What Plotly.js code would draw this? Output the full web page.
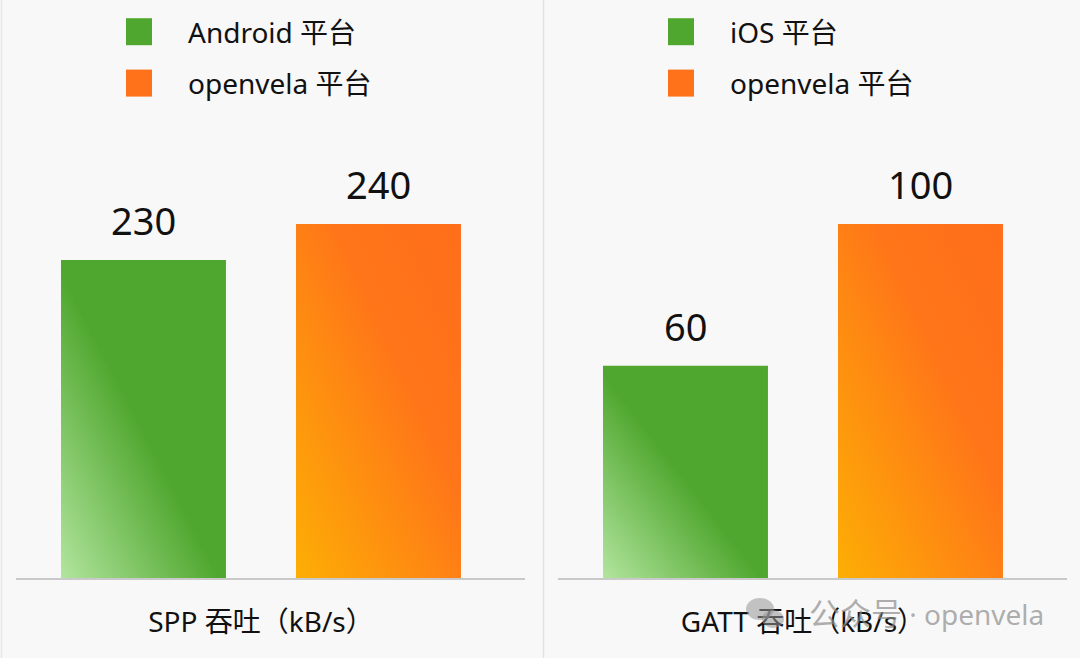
<!DOCTYPE html>
<html>
<head>
<meta charset="utf-8">
<script src="https://cdn.plot.ly/plotly-3.0.1.min.js"></script>
<style>
  html, body { margin: 0; padding: 0; background: #f8f8f8; }
  #chart { width: 1080px; height: 658px; }
</style>
</head>
<body>
<div id="chart"></div>
<script>
// ---- data ----
const sppCategory = ['SPP 吞吐（kB/s）'];
const gattCategory = ['GATT 吞吐（kB/s）'];
const androidName = 'Android 平台';
const iosName = 'iOS 平台';
const openvelaName = 'openvela 平台';
const androidSpp = [230];
const openvelaSpp = [240];
const iosGatt = [60];
const openvelaGatt = [100];
const watermarkCn = '公众号';
const watermarkEn = 'openvela';

// ---- style ----
const FONT = 'Noto Sans, "Noto Sans CJK SC", sans-serif';
const GREEN = '#50a72f';
const ORANGE = '#ff7219';
const GRAD = {
  green: [[0, '#b2e59e'], [0.48, '#50a72f'], [1, '#50a72f']],
  orange: [[0, '#fdae05'], [0.62, '#ff7519'], [1, '#ff6e1a']]
};

function barTrace(cats, vals, name, color, xa, ya, legend, kind, group) {
  return {
    type: 'bar', x: cats, y: vals, name: name,
    xaxis: xa, yaxis: ya, legend: legend, legendgroup: group,
    marker: { color: color, line: { width: 0 } },
    meta: kind, hoverinfo: 'skip', cliponaxis: true
  };
}

const data = [
  barTrace(sppCategory, androidSpp, androidName, GREEN, 'x', 'y', 'legend', 'green', 'a'),
  barTrace(sppCategory, openvelaSpp, openvelaName, ORANGE, 'x', 'y', 'legend', 'orange', 'b'),
  barTrace(gattCategory, iosGatt, iosName, GREEN, 'x2', 'y2', 'legend2', 'green', 'c'),
  barTrace(gattCategory, openvelaGatt, openvelaName, ORANGE, 'x2', 'y2', 'legend2', 'orange', 'd')
];

// value labels built from the data
const SHIFT = 117.5;
const annotations = [];
[[sppCategory, androidSpp, -SHIFT, 'x', 'y'], [sppCategory, openvelaSpp, SHIFT, 'x', 'y'],
 [gattCategory, iosGatt, -SHIFT, 'x2', 'y2'], [gattCategory, openvelaGatt, SHIFT, 'x2', 'y2']]
.forEach(([c, v, dx, xr, yr]) => {
  v.forEach((val, i) => annotations.push({
    x: c[i], y: val, xref: xr, yref: yr, text: String(val), showarrow: false,
    xshift: dx, yshift: 12, yanchor: 'bottom',
    font: { family: FONT, size: 38, color: '#111111' }
  }));
});
annotations.push({
  xref: 'paper', yref: 'paper', x: 1046 / 1080, y: 1 - 613 / 658, xanchor: 'right', yanchor: 'middle',
  text: '<span style="font-size:31px">' + watermarkCn + '</span> · ' + watermarkEn, showarrow: false,
  font: { family: FONT, size: 28, color: 'rgba(140,140,140,0.7)' }
});

const xCommon = {
  type: 'category', range: [-0.4813, 0.5187], showline: true, linecolor: '#c9c9c9', linewidth: 2,
  ticks: '', showgrid: false, zeroline: false, fixedrange: true, ticklabelstandoff: 18,
  tickfont: { family: FONT, size: 28, color: '#111111' }
};
const yCommon = { visible: false, showgrid: false, zeroline: false, fixedrange: true, domain: [1 - 578 / 658, 1] };
const legendCommon = {
  xanchor: 'left', yanchor: 'top', y: 1 - 7 / 658, bgcolor: 'rgba(0,0,0,0)', itemwidth: 88,
  traceorder: 'grouped', tracegroupgap: 12, itemclick: false, itemdoubleclick: false,
  font: { family: FONT, size: 28, color: '#111111' }
};

const layout = {
  width: 1080, height: 658,
  margin: { l: 0, r: 0, t: 0, b: 0 },
  paper_bgcolor: '#f8f8f8', plot_bgcolor: 'rgba(0,0,0,0)',
  barmode: 'group', bargap: 0.0766, bargroupgap: 0.298,
  font: { family: FONT, color: '#111111' },
  xaxis: Object.assign({}, xCommon, { domain: [16 / 1080, 525 / 1080], anchor: 'y' }),
  xaxis2: Object.assign({}, xCommon, { domain: [558 / 1080, 1067 / 1080], anchor: 'y2' }),
  yaxis: Object.assign({}, yCommon, { range: [141.67, 302.2], anchor: 'x' }),
  yaxis2: Object.assign({}, yCommon, { range: [0, 163.3], anchor: 'x2' }),
  legend: Object.assign({}, legendCommon, { x: 90 / 1080 }),
  legend2: Object.assign({}, legendCommon, { x: 632 / 1080 }),
  annotations: annotations,
  shapes: [
    { type: 'line', xref: 'paper', yref: 'paper', x0: 543.5 / 1080, x1: 543.5 / 1080, y0: 0, y1: 1,
      line: { color: '#e3e3e3', width: 1.5 }, layer: 'below' },
    { type: 'line', xref: 'paper', yref: 'paper', x0: 1.5 / 1080, x1: 1.5 / 1080, y0: 0, y1: 1,
      line: { color: '#e6e6e6', width: 1.5 }, layer: 'below' },
    { type: 'circle', xref: 'paper', yref: 'paper', x0: 746 / 1080, x1: 774 / 1080,
      y0: 1 - 620 / 658, y1: 1 - 598 / 658, fillcolor: 'rgba(150,150,150,0.55)', line: { width: 0 } },
    { type: 'circle', xref: 'paper', yref: 'paper', x0: 762 / 1080, x1: 784 / 1080,
      y0: 1 - 628 / 658, y1: 1 - 610 / 658, fillcolor: 'rgba(150,150,150,0.55)', line: { width: 0 } }
  ]
};

function applyGradients(gd) {
  const ns = 'http://www.w3.org/2000/svg';
  const svg = gd.querySelector('svg.main-svg');
  let defs = svg.querySelector('defs');
  if (!defs) { defs = document.createElementNS(ns, 'defs'); svg.insertBefore(defs, svg.firstChild); }
  let n = 0;
  gd.querySelectorAll('.barlayer .trace').forEach(tr => {
    const cd = tr.__data__;
    if (!cd || !cd[0] || !cd[0].trace) return;
    const trace = cd[0].trace;
    const ya = gd._fullLayout[trace.yaxis === 'y' ? 'yaxis' : 'yaxis' + trace.yaxis.slice(1)];
    tr.querySelectorAll('path').forEach(p => {
      const bb = p.getBBox();
      const top = Math.max(bb.y, 0);
      const bottom = Math.min(bb.y + bb.height, ya._length);
      const h = bottom - top;
      if (h <= 0) return;
      const id = 'bargrad' + (n++);
      const g = document.createElementNS(ns, 'linearGradient');
      g.setAttribute('id', id);
      g.setAttribute('gradientUnits', 'userSpaceOnUse');
      g.setAttribute('x1', '0'); g.setAttribute('y1', '1');
      g.setAttribute('x2', '1'); g.setAttribute('y2', '0');
      g.setAttribute('gradientTransform', `matrix(${bb.width} 0 0 ${h} ${bb.x} ${top})`);
      GRAD[trace.meta].forEach(([o, c]) => {
        const s = document.createElementNS(ns, 'stop');
        s.setAttribute('offset', o);
        s.setAttribute('stop-color', c);
        g.appendChild(s);
      });
      defs.appendChild(g);
      p.style.fill = `url(#${id})`;
      p.style.fillOpacity = 1;
    });
  });
  // enlarge legend swatches (both legends)
  gd.querySelectorAll('.legendpoints path').forEach(p => {
    const t = p.getAttribute('transform') || '';
    p.setAttribute('transform', t + ' scale(2.17,2.25)');
  });
}

Plotly.newPlot('chart', data, layout, { displayModeBar: false, staticPlot: true })
  .then(gd => applyGradients(gd));
</script>
</body>
</html>
